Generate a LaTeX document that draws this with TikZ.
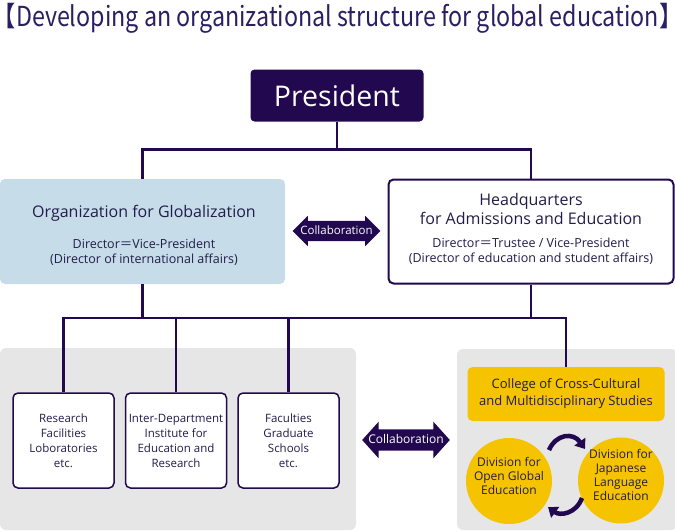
\documentclass[tikz,border=0pt]{standalone}
\usepackage{fontspec}
\setmainfont{Open Sans}
\newfontfamily\cjkfont{Noto Sans CJK JP}
\usetikzlibrary{shapes.arrows,arrows.meta}
\definecolor{dp}{HTML}{21084F}
\definecolor{ttl}{HTML}{2B1E63}
\definecolor{txt}{HTML}{231C4A}
\definecolor{lblue}{HTML}{C6DDE9}
\definecolor{pgrey}{HTML}{E6E6E6}
\definecolor{gold}{HTML}{F5C300}
\newcommand{\fs}[2]{\fontsize{#1}{#2}\selectfont}
\newcommand{\eqfw}{{\cjkfont ＝}}
\begin{document}
\begin{tikzpicture}[x=1pt,y=-1pt,
  conn/.style={draw=dp,line width=2.2pt},
  txtline/.style={inner sep=0,text=txt},
  bigt/.style={txtline,font=\fs{16}{19}},
  smallt/.style={txtline,font=\fs{12.5}{15}},
  panel/.style={fill=pgrey,rounded corners=6pt,inner sep=0},
  sbox/.style={draw=dp,line width=1.5pt,fill=white,rounded corners=5pt,
    minimum width=101pt,minimum height=95pt,inner sep=0,align=center,
    text=txt,font=\fs{11.5}{15}},
  collab/.style={double arrow,fill=dp,text=white,inner xsep=0,
    text height=8pt,text depth=2pt},
  division/.style={circle,fill=gold,minimum size=86pt,inner sep=0},
  divtext/.style={inner sep=0,align=center,text=txt,font=\fs{12}{13.8}},
  carrow/.style={draw=dp,line width=4.5pt,-{Triangle[width=13pt,length=9pt]}}]
\useasboundingbox (0,0) rectangle (675,531);

% title
\node[anchor=base,inner sep=0,text=ttl] (title) at (337.5,26)
  {\resizebox{670pt}{\height}{\fs{27.5}{30}\cjkfont\kern-0.42em【Developing an organizational structure for global education】\kern-0.42em}};

% president
\node[fill=dp,rounded corners=4pt,minimum width=173pt,minimum height=52pt,
  inner sep=0,text=white,font=\fs{28.5}{30}] (pres) at (337,95.5) {President};

% second level boxes
\node[fill=lblue,rounded corners=5pt,minimum width=285pt,minimum height=105pt,inner sep=0] (org) at (142.5,231.5) {};
\node[draw=dp,line width=2pt,fill=white,rounded corners=5pt,minimum width=285pt,minimum height=104pt,inner sep=0] (hq) at (531,231.5) {};

\node[bigt] (orgT) at (144,213) {Organization for Globalization};
\node[smallt] (orgD1) at (144,244) {Director\eqfw Vice-President};
\node[smallt] (orgD2) at (144,260) {(Director of international affairs)};

\node[bigt] (hqT1) at (531,201) {Headquarters};
\node[bigt] (hqT2) at (531,218) {for Admissions and Education};
\node[smallt] (hqD1) at (531,243) {Director\eqfw Trustee / Vice-President};
\node[smallt] (hqD2) at (531,259) {(Director of education and student affairs)};

\node[collab,font=\fs{11.5}{12},inner ysep=5pt,double arrow head extend=5pt,
  double arrow tip angle=90] (col1) at (336.5,231) {\makebox[67pt]{Collaboration}};

% bottom panels
\node[panel,minimum width=356pt,minimum height=182pt] (pl) at (178,439) {};
\node[panel,minimum width=220pt,minimum height=181pt] (pr) at (567,439.5) {};

% connectors
\coordinate (bus1) at (337,149.5);
\coordinate (busL) at (63.5,318);
\coordinate (busR) at (566,318);
\draw[conn] (pres.south) -- (bus1);
\draw[conn] (org.north) |- (bus1) -| (hq.north);

\node[sbox] (b1) at (63.5,440.5) {Research\\Facilities\\Loboratories\\etc.};
\node[sbox] (b2) at (176,440.5) {Inter-Department\\Institute for\\Education and\\Research};
\node[sbox] (b3) at (288.5,440.5) {Faculties\\Graduate\\Schools\\etc.};

\node[fill=gold,rounded corners=5pt,minimum width=197pt,minimum height=54pt,inner sep=0,
  align=center,text=txt,font=\fs{13}{17}] (col) at (566,394) {College of Cross-Cultural\\and Multidisciplinary Studies};

\draw[conn] (b1.north) -- (busL) -- (busR) -- (col.north);
\draw[conn] (b2.north) -- (b2.north |- busL);
\draw[conn] (b3.north) -- (b3.north |- busL);
\draw[conn] (org.south) -- (org.south |- busL);
\draw[conn] (hq.south) -- (hq.south |- busL);

\node[collab,font=\fs{12}{13},inner ysep=5.5pt,double arrow head extend=7.5pt,
  double arrow tip angle=96] (col2) at (406,440) {\makebox[68pt]{Collaboration}};

% divisions
\node[division] (d1) at (509,481) {};
\node[division] (d2) at (621,480.5) {};
\node[divtext] (d1t) at (509,476) {Division for\\Open Global\\Education};
\node[divtext] (d2t) at (621,475) {Division for\\Japanese\\Language\\Education};

\coordinate (a1s) at (549,450);
\coordinate (a1e) at (585,449);
\coordinate (a2s) at (582,498);
\coordinate (a2e) at (548,507);
\draw[carrow] (a1s) .. controls (556,434) and (573,432) .. (a1e);
\draw[carrow] (a2s) .. controls (576,514) and (560,516) .. (a2e);
\end{tikzpicture}
\end{document}
